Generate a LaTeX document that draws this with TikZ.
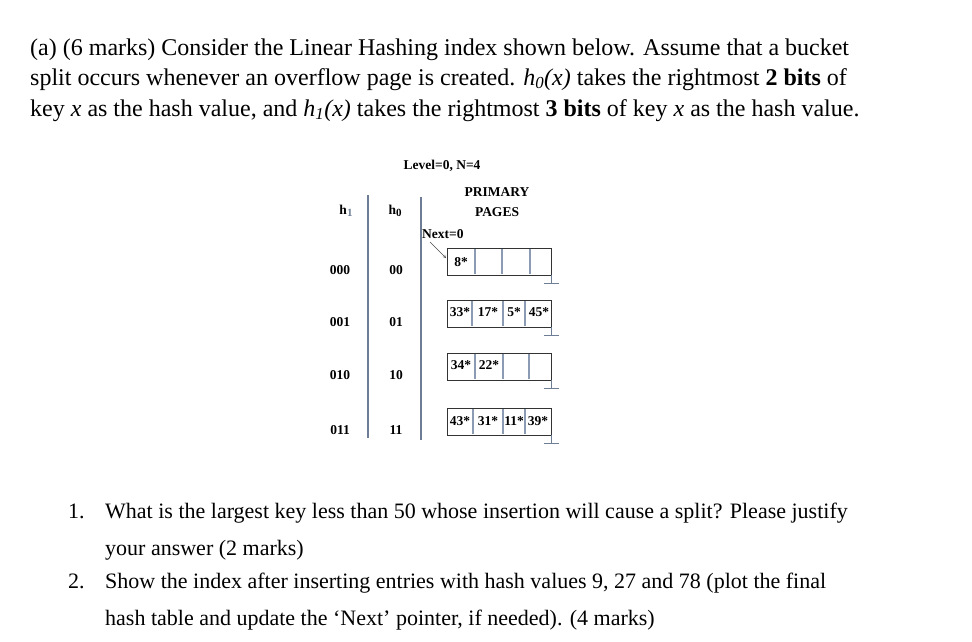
\documentclass[tikz,border=0pt]{standalone}
\usepackage{fontspec}
\setmainfont{Liberation Serif}
\definecolor{slate}{RGB}{110,125,150}
\definecolor{slatel}{RGB}{140,155,180}
\begin{document}
\begin{tikzpicture}[x=1pt,y=-1pt,
  para/.style={anchor=base west,inner sep=0,font=\fontsize{24}{28}\selectfont},
  qtext/.style={anchor=base west,inner sep=0,font=\fontsize{22}{26}\selectfont},
  lab/.style={inner sep=0,font=\fontsize{13.5}{16}\selectfont\bfseries},
  cell/.style={inner sep=0,font=\fontsize{13.5}{16}\selectfont\bfseries},
  bline/.style={draw=black!80,line width=1pt},
  vline/.style={draw=slate,line width=1.6pt},
  div/.style={draw=slatel,line width=1.2pt}]
\useasboundingbox (0,0) rectangle (972,641);
\fill[white] (0,0) rectangle (972,641);
\node[para] (p1) at (30,55) {(a) (6 marks) Consider the Linear Hashing index shown below. Assume that a bucket};
\node[para] (p2) at (30,85) {split occurs whenever an overflow page is created. \textit{h\textsubscript{0}(x)} takes the rightmost \textbf{2 bits} of};
\node[para] (p3) at (30,116) {key \textit{x} as the hash value, and \textit{h\textsubscript{1}(x)} takes the rightmost \textbf{3 bits} of key \textit{x} as the hash value.};
% diagram
\node[lab] (lev) at (442,166) {Level=0, N=4};
\node[lab] (pr) at (497,192) {PRIMARY};
\node[lab] (pg) at (497,212) {PAGES};
\node[lab] (h1) at (346,211) {h\raisebox{-2pt}{\fontsize{11}{13}\selectfont\color{slate}1}};
\node[lab] (h0) at (395,211) {h\raisebox{-2pt}{\fontsize{11}{13}\selectfont 0}};
\coordinate (v1t) at (368,195); \coordinate (v1b) at (368,438);
\coordinate (v2t) at (421,197); \coordinate (v2b) at (421,440);
\draw[vline] (v1t) -- (v1b);
\draw[vline] (v2t) -- (v2b);
\node[lab,anchor=west] (nx) at (422,234) {Next=0};
\coordinate (a0) at (430,242); \coordinate (a1) at (446,258);
\draw[-stealth,black!70] (a0) -- (a1);
% buckets
\foreach \i/\y/\a/\b/\c/\la/\lb in {0/248/475/502/530/000/00,1/300/472/503/525/001/01,2/353/475/503/529/010/10,3/408/473/503/525/011/11}{
  \draw[bline] (447,\y) rectangle (551,\y+27);
  \draw[div] (\a,\y+1) -- (\a,\y+26);
  \draw[div] (\b,\y+1) -- (\b,\y+26);
  \draw[div] (\c,\y+1) -- (\c,\y+26);
  \draw[slate,line width=1pt] (551,\y+27) -- (551,\y+35);
  \draw[slate,line width=1pt] (544,\y+35) -- (559,\y+35);
  \node[lab] (r1\i) at (340,\y+22) {\la};
  \node[lab] (r0\i) at (396,\y+22) {\lb};
}
\node[cell] (c00) at (461,262) {8*};
\node[cell] (c10) at (460,312) {33*};
\node[cell] (c11) at (488,312) {17*};
\node[cell] (c12) at (514,312) {5*};
\node[cell] (c13) at (539,312) {45*};
\node[cell] (c20) at (461,365) {34*};
\node[cell] (c21) at (489,365) {22*};
\node[cell] (c30) at (460,421) {43*};
\node[cell] (c31) at (488,421) {31*};
\node[cell] (c32) at (514,421) {11*};
\node[cell] (c33) at (538,421) {39*};
% questions
\node[qtext] (q1n) at (68,518) {1.};
\node[qtext] (q1a) at (105,518) {What is the largest key less than 50 whose insertion will cause a split? Please justify};
\node[qtext] (q1b) at (105,555) {your answer (2 marks)};
\node[qtext] (q2n) at (68,588) {2.};
\node[qtext] (q2a) at (105,588) {Show the index after inserting entries with hash values 9, 27 and 78 (plot the final};
\node[qtext] (q2b) at (105,625) {hash table and update the `Next' pointer, if needed). (4 marks)};
\end{tikzpicture}
\end{document}
